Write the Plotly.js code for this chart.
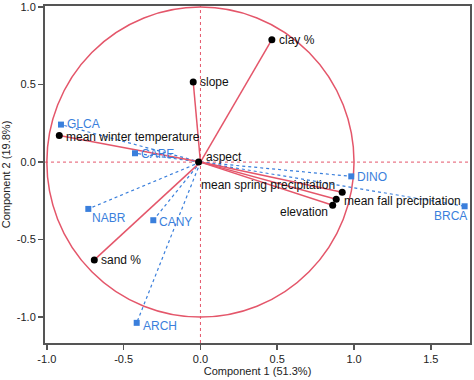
<!DOCTYPE html>
<html><head><meta charset="utf-8">
<script src="https://cdn.plot.ly/plotly-3.0.1.min.js"></script>
<style>html,body{margin:0;padding:0;background:#fff}#chart{width:474px;height:380px}</style>
</head><body><div id="chart"></div>
<script>
// ---- data ----
const varNames = ['clay %', 'slope', 'mean winter temperature', 'aspect', 'sand %', 'mean spring precipitation', 'mean fall precipitation', 'elevation'];
const varX = [0.465, -0.047, -0.919, -0.012, -0.691, 0.923, 0.884, 0.861];
const varY = [0.790, 0.517, 0.171, 0.000, -0.631, -0.195, -0.240, -0.278];
const siteNames = ['GLCA', 'CARE', 'DINO', 'BRCA', 'NABR', 'CANY', 'ARCH'];
const siteX = [-0.908, -0.426, 0.982, 1.720, -0.730, -0.307, -0.415];
const siteY = [0.242, 0.057, -0.092, -0.285, -0.302, -0.375, -1.037];
const xTickVals = [-1, -0.5, 0, 0.5, 1, 1.5];
const xTickText = ['-1.0', '-0.5', '0.0', '0.5', '1.0', '1.5'];
const yTickVals = [-1, -0.5, 0, 0.5, 1];
const yTickText = ['-1.0', '-0.5', '0.0', '0.5', '1.0'];
const xTitle = 'Component 1 (51.3%)';
const yTitle = 'Component 2 (19.8%)';

// ---- styles ----
const RED = '#e4566a';
const BLUE = '#3a7fdc';
const FONT = 'Arial, "Liberation Sans", Helvetica, sans-serif';
// label placement: [xanchor, yanchor, xshift, yshift]
const varLabelPos = [
  ['left','middle',5,0], ['left','middle',5,0], ['left','middle',5,-1], ['left','middle',5,5],
  ['left','middle',5,0], ['right','middle',-5,7], ['left','middle',6,-2], ['right','middle',-3,-7]
];
const siteLabelPos = [
  ['left','middle',4,1], ['left','middle',4,-1], ['left','middle',4,-1], ['right','middle',4,-10],
  ['left','middle',2,-9], ['left','middle',4,-2], ['left','middle',4,-3]
];

function segs(xs, ys) {
  const sx = [], sy = [];
  xs.forEach((v, i) => { sx.push(0, v, null); sy.push(0, ys[i], null); });
  return {x: sx, y: sy};
}
const vs = segs(varX, varY);
const ss = segs(siteX, siteY);

const traces = [
  {x: ss.x, y: ss.y, mode: 'lines', line: {color: BLUE, width: 1.2, dash: 'dot'}, hoverinfo: 'skip', showlegend: false},
  {x: vs.x, y: vs.y, mode: 'lines', line: {color: RED, width: 1.5}, hoverinfo: 'skip', showlegend: false},
  {x: siteX, y: siteY, mode: 'markers', marker: {symbol: 'square', size: 6, color: BLUE}, showlegend: false, cliponaxis: false},
  {x: varX, y: varY, mode: 'markers', marker: {symbol: 'circle', size: 7, color: '#000'}, showlegend: false}
];

const annotations = [];
varNames.forEach((n, i) => {
  const p = varLabelPos[i];
  annotations.push({x: varX[i], y: varY[i], text: n, showarrow: false, xanchor: p[0], yanchor: p[1], xshift: p[2], yshift: p[3],
    font: {family: FONT, size: 12, color: '#111'}});
});
siteNames.forEach((n, i) => {
  const p = siteLabelPos[i];
  annotations.push({x: siteX[i], y: siteY[i], text: n, showarrow: false, xanchor: p[0], yanchor: p[1], xshift: p[2], yshift: p[3],
    font: {family: FONT, size: 12, color: BLUE}});
});

const layout = {
  width: 474, height: 380,
  margin: {l: 45, r: 4, t: 6, b: 37},
  paper_bgcolor: '#fff', plot_bgcolor: '#fff',
  font: {family: FONT, size: 11, color: '#222'},
  showlegend: false,
  xaxis: {
    range: [-1.012, 1.755], tickvals: xTickVals, ticktext: xTickText,
    showgrid: false, zeroline: false, showline: true, mirror: true, linecolor: '#555', linewidth: 2,
    ticks: 'outside', ticklen: 5, tickcolor: '#555', tickwidth: 1.5,
    tickfont: {family: FONT, size: 11, color: '#222'},
    title: {text: xTitle, font: {family: FONT, size: 11, color: '#222'}, standoff: 3}
  },
  yaxis: {
    range: [-1.167, 1.007], tickvals: yTickVals, ticktext: yTickText,
    showgrid: false, zeroline: false, showline: true, mirror: true, linecolor: '#555', linewidth: 2,
    ticks: 'outside', ticklen: 5, tickcolor: '#555', tickwidth: 1.5,
    tickfont: {family: FONT, size: 11, color: '#222'},
    title: {text: yTitle, font: {family: FONT, size: 11, color: '#222'}, standoff: 4}
  },
  shapes: [
    {type: 'line', xref: 'paper', yref: 'y', x0: 0, x1: 1, y0: 0, y1: 0, line: {color: RED, width: 1, dash: 'dot'}, layer: 'below'},
    {type: 'line', xref: 'x', yref: 'paper', x0: 0, x1: 0, y0: 0, y1: 1, line: {color: RED, width: 1, dash: 'dot'}, layer: 'below'},
    {type: 'circle', xref: 'x', yref: 'y', x0: -1, x1: 1, y0: -1, y1: 1, line: {color: RED, width: 1.5}, layer: 'below'}
  ],
  annotations: annotations
};

Plotly.newPlot('chart', traces, layout, {displayModeBar: false, staticPlot: true});
</script>
</body></html>
